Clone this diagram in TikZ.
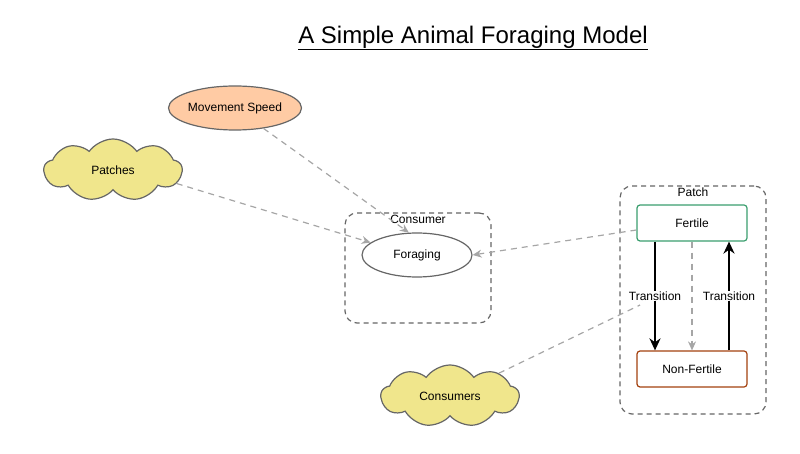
\documentclass[tikz,border=0pt]{standalone}
\usepackage{fontspec}
\setmainfont{Liberation Sans}
\usetikzlibrary{shapes.geometric,shapes.symbols,arrows.meta}
\definecolor{grayln}{HTML}{666666}
\definecolor{dashc}{HTML}{A6A6A6}
\definecolor{cloudc}{HTML}{F0E68C}
\definecolor{peach}{HTML}{FFCBA4}
\definecolor{fertc}{HTML}{3A9E6E}
\definecolor{nonc}{HTML}{A3410F}
\begin{document}
\begin{tikzpicture}[x=1pt,y=-1pt,
  fs/.style={font=\fontsize{12}{14}\selectfont},
  cl/.style={cloud,cloud puffs=9,cloud puff arc=110,aspect=2.2,draw=grayln,line width=1.2pt,fill=cloudc,minimum width=138,minimum height=62,fs,inner sep=0},
  el/.style={ellipse,draw=grayln,line width=1.2pt,fs,minimum width=110,minimum height=44,inner sep=0},
  grp/.style={draw=grayln,dashed,line width=1.2pt,rounded corners=12,dash pattern=on 5pt off 4pt},
  st/.style={draw,line width=1.2pt,rounded corners=3,fill=white,minimum width=110,minimum height=36,fs},
  dl/.style={draw=dashc,line width=1.2pt,dash pattern=on 6pt off 5pt},
  da/.style={dl,-{Stealth[length=9pt,width=8pt]}},
  tr/.style={line width=2.6pt,-{Stealth[length=12pt,width=11pt]}},
  lbl/.style={fill=white,inner sep=1pt,fs}]
\useasboundingbox (0,0) rectangle (800,454);
\node[font=\fontsize{24}{28}\selectfont] (title) at (473,38) {\underline{A Simple Animal Foraging Model}};
\node[grp,minimum width=146,minimum height=110] (cbox) at (418,268) {};
\node[fs,anchor=north,inner sep=1pt] (clab) at (418,214) {Consumer};
\node[grp,minimum width=146,minimum height=228] (pbox) at (693,300) {};
\node[fs,anchor=north,inner sep=1pt] (plab) at (693,187) {Patch};
\node[el,fill=peach] (ms) at (235,108) {Movement Speed};
\node[el,fill=white] (forg) at (417,255) {Foraging};
\node[cl] (patches) at (113,170) {Patches};
\node[cl] (consumers) at (450,396) {Consumers};
\node[st,draw=fertc] (fert) at (692,223) {Fertile};
\node[st,draw=nonc] (nonf) at (692,369) {Non-Fertile};
\coordinate (cend) at (640,305);
\draw[da] (ms) -- (forg.110);
\draw[da] (patches.-12) -- (forg.165);
\draw[da] (fert.west |- 0,230) -- (forg.east);
\draw[da] (fert.south) -- (nonf.north);
\draw[dl] (consumers.25) -- (cend);
\draw[tr] (fert.south -| 655,0) -- node[lbl]{Transition} (nonf.north -| 655,0);
\draw[tr] (nonf.north -| 729,0) -- node[lbl]{Transition} (fert.south -| 729,0);
\end{tikzpicture}
\end{document}
